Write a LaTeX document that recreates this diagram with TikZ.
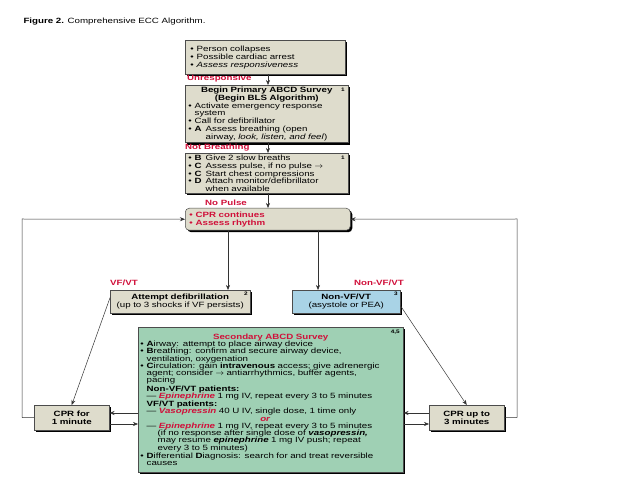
\documentclass[tikz,border=0pt]{standalone}
\usepackage{fontspec}
\setmainfont[FakeStretch=1.28]{Liberation Sans}
\usetikzlibrary{arrows.meta,shadows}
\definecolor{beige}{HTML}{DEDCCC}
\definecolor{bl}{HTML}{A9D3E6}
\definecolor{gr}{HTML}{9FD0B4}
\definecolor{rd}{HTML}{D0103A}
\newcommand{\bu}{\textbullet\hspace{3pt}}
\newcommand{\rar}{$\rightarrow$}
\begin{document}
\begin{tikzpicture}[x=1pt,y=-1pt,
 box/.style={draw=black!70,line width=0.5pt,fill=beige,anchor=north west,inner sep=1.5pt,
   drop shadow={shadow xshift=2pt,shadow yshift=-2pt,fill=black,opacity=1},
   font=\fontsize{7.6}{7.9}\selectfont,align=left},
 lab/.style={text=rd,font=\bfseries\fontsize{7.6}{8}\selectfont,inner sep=0pt},
 ar/.style={-{Stealth[length=5pt,width=4pt]},line width=0.5pt,draw=black!80},
 sup/.style={font=\bfseries\fontsize{5}{5}\selectfont,inner sep=0pt,anchor=north east}]
\useasboundingbox (0,0) rectangle (638,478);
\node[anchor=west,font=\fontsize{7.6}{8}\selectfont] (title) at (20,22) {\textbf{Figure 2.} Comprehensive ECC Algorithm.};

\node[box,minimum width=160pt,minimum height=34pt,text width=150pt] (b1) at (185,40)
 {\bu Person collapses\\ \bu Possible cardiac arrest\\ \bu \textit{Assess responsiveness}};
\node[box,minimum width=163pt,minimum height=57pt,text width=157pt] (b2) at (185,85)
 {\centering\textbf{Begin Primary ABCD Survey}\\ \textbf{(Begin BLS Algorithm)}\par\raggedright
 \bu Activate emergency response\\ \phantom{\bu}system\\ \bu Call for defibrillator\\
 \bu \textbf{A}\hspace{4pt}Assess breathing (open\\ \phantom{\bu \textbf{A}\hspace{4pt}}airway, \textit{look, listen, and feel})};
\node[sup] at (345,88) {1};
\node[box,minimum width=163pt,minimum height=40pt,text width=157pt] (b3) at (185,153)
 {\bu \textbf{B}\hspace{4pt}Give 2 slow breaths\\ \bu \textbf{C}\hspace{4pt}Assess pulse, if no pulse \rar\\
 \bu \textbf{C}\hspace{4pt}Start chest compressions\\ \bu \textbf{D}\hspace{4pt}Attach monitor/defibrillator\\ \phantom{\bu \textbf{D}\hspace{4pt}}when available};
\node[sup] at (345,156) {1};
\node[box,rounded corners=4pt,minimum width=165pt,minimum height=22pt,text width=157pt] (b4) at (185,208)
 {\color{rd}\bfseries\bu CPR continues\\ \bu Assess rhythm};

\node[box,minimum width=140pt,minimum height=23pt,text width=136pt,align=center] (def) at (110,290)
 {\textbf{Attempt defibrillation}\\ (up to 3 shocks if VF persists)};
\node[sup] at (248,292) {2};
\node[box,fill=bl,minimum width=108pt,minimum height=23pt,text width=104pt,align=center] (nvf) at (292,290)
 {\textbf{Non-VF/VT}\\ (asystole or PEA)};
\node[sup] at (398,292) {3};
\node[lab,anchor=south west] at (110,286) {VF/VT};
\node[lab,anchor=south east] at (404,286) {Non-VF/VT};
\node[lab,anchor=south west] at (187,82.5) {Unresponsive};
\node[lab,anchor=south west] at (185,151.5) {Not Breathing};
\node[lab,anchor=south west] at (205,206) {No Pulse};

\node[box,fill=gr,minimum width=265pt,minimum height=145pt,text width=261pt,font=\fontsize{7.6}{7.25}\selectfont] (sec) at (138,327)
 {\centering{\color{rd}\bfseries Secondary ABCD Survey}\par\raggedright
 \bu \textbf{A}irway: attempt to place airway device\\
 \bu \textbf{B}reathing: confirm and secure airway device,\\ \phantom{\bu}ventilation, oxygenation\\
 \bu \textbf{C}irculation: gain \textbf{intravenous} access; give adrenergic\\ \phantom{\bu}agent; consider \rar\ antiarrhythmics, buffer agents,\\ \phantom{\bu}pacing\\[1pt]
 \phantom{\bu}\textbf{Non-VF/VT patients:}\\
 \phantom{\bu}--- {\color{rd}\bfseries\itshape Epinephrine} 1 mg IV, repeat every 3 to 5 minutes\\[1pt]
 \phantom{\bu}\textbf{VF/VT patients:}\\
 \phantom{\bu}--- {\color{rd}\bfseries\itshape Vasopressin} 40 U IV, single dose, 1 time only\\
 \hspace*{120pt}{\color{rd}\bfseries\itshape or}\\
 \phantom{\bu}--- {\color{rd}\bfseries\itshape Epinephrine} 1 mg IV, repeat every 3 to 5 minutes\\
 \phantom{\bu---\,}(if no response after single dose of \textbf{\textit{vasopressin,}}\\
 \phantom{\bu---\,}may resume \textbf{\textit{epinephrine}} 1 mg IV push; repeat\\
 \phantom{\bu---\,}every 3 to 5 minutes)\\[1pt]
 \bu \textbf{D}ifferential \textbf{D}iagnosis: search for and treat reversible\\ \phantom{\bu}causes};
\node[sup] at (400,330) {4,5};

\node[box,minimum width=75pt,minimum height=25pt,text width=70pt,align=center] (cl) at (34,405)
 {\textbf{CPR for}\\ \textbf{1 minute}};
\node[box,minimum width=75pt,minimum height=25pt,text width=70pt,align=center] (cr) at (429,405)
 {\textbf{CPR up to}\\ \textbf{3 minutes}};

\draw[ar] (268,74) -- (268,85);
\draw[ar] (268,142) -- (268,153);
\draw[ar] (268,193) -- (268,208);
\draw[ar] (228,230) -- (228,290);
\draw[ar] (318,230) -- (318,290);
\draw[ar] (def.west) ++(0,-4) -- (cl.north);
\draw[ar] (nvf.east) ++(0,4) -- (cr.north);
\draw[ar] (sec.west |- 0,413) -- (cl.east |- 0,413);
\draw[ar] (cl.east |- 0,424) -- (sec.west |- 0,424);
\draw[ar] (cr.west |- 0,413) -- (sec.east |- 0,413);
\draw[ar] (sec.east |- 0,424) -- (cr.west |- 0,424);
\draw[ar] (cl.west) -- (22,417.5) -- (22,219) -- (b4.west);
\draw[ar] (cr.east) -- (517,417.5) -- (517,219) -- (b4.east);
\end{tikzpicture}
\end{document}
